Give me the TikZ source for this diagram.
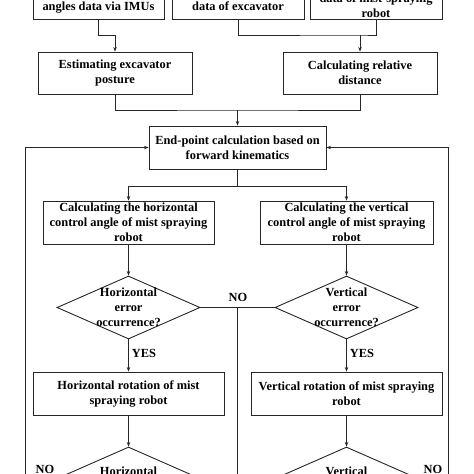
\documentclass[tikz,border=0pt]{standalone}
\usepackage{fontspec}
\setmainfont{Liberation Serif}
\usetikzlibrary{shapes.geometric, arrows.meta, positioning}

\begin{document}
\begin{tikzpicture}
[
    x = 1pt, y = -1pt,
    line width = 0.9pt, draw = black!85,
    every node/.style = {font = \fontsize{12.4}{15}\selectfont\bfseries, align = center},
    arr/.style = {-{Stealth[length=4.5pt, width=3.5pt]}}
  ]

  \tikzset{BoxStyle/.style = {draw = black!85,
                                rectangle,
                                inner sep    = 0pt,
                                minimum height = 43pt},
           TopStyle/.style = {draw = black!85,
                                rectangle,
                                anchor       = south,
                                inner xsep   = 0pt,
                                text height  = 40pt,
                                text depth   = 0pt},
           DecStyle/.style = {draw = black!85,
                                diamond,
                                shape aspect = 2.27,
                                inner sep    = -8pt,
                                minimum width  = 143pt,
                                minimum height = 63pt},
           LabStyle/.style = {inner sep = 1pt}}

  \useasboundingbox (0,0) rectangle (474,474);
  \clip (0,0) rectangle (474,474);

  % inputs
  \node[TopStyle, minimum width=131pt, inner ysep=8.7pt](in1) at (98.5,20)
       {angles data via IMUs};
  \node[TopStyle, minimum width=132pt, inner ysep=8.7pt](in2) at (238,20)
       {data of excavator};
  \node[TopStyle, minimum width=132pt, inner ysep=1.7pt](in3) at (376,20)
       {data of mist-spraying\\robot};

  \node[BoxStyle, minimum width=154pt, minimum height=42pt](est) at (115,73)
       {Estimating excavator\\posture};
  \node[BoxStyle, minimum width=154pt, minimum height=42pt](rel) at (360,73)
       {Calculating relative\\distance};

  \node[BoxStyle, minimum width=177pt](fk) at (237.5,147.5)
       {End-point calculation based on\\forward kinematics};

  % horizontal branch
  \node[BoxStyle, minimum width=171pt](hcal) at (128.5,222.5)
       {Calculating the horizontal\\control angle of mist spraying\\robot};
  \node[DecStyle](hdec) at (128.5,307.5) {Horizontal\\error\\occurrence?};
  \node[BoxStyle, minimum width=191pt](hrot) at (128.5,393.5)
       {Horizontal rotation of mist\\spraying robot};
  \node[DecStyle](hchk) at (128.5,478.5) {Horizontal\\~};

  % vertical branch
  \node[BoxStyle, minimum width=173pt](vcal) at (346.5,222.5)
       {Calculating the vertical\\control angle of mist spraying\\robot};
  \node[DecStyle](vdec) at (346.5,307.5) {Vertical\\error\\occurrence?};
  \node[BoxStyle, minimum width=191pt](vrot) at (346.5,393.5)
       {Vertical rotation of mist spraying\\robot};
  \node[DecStyle](vchk) at (346.5,478.5) {Vertical\\~};

  \coordinate (m1) at (360,35);
  \coordinate (m2) at (237.5,110);
  \coordinate (lp) at (25,478.5);
  \coordinate (rp) at (448,478.5);
  \coordinate (mid) at (237,490);

  \draw[arr] (in1.south) -- ++(0,15) -| (est.north);
  \draw (in2.south) |- (m1) -| (in3.south);
  \draw[arr] (m1) -- (rel.north);
  \draw (est.south) |- (m2) -| (rel.south);
  \draw[arr] (m2) -- (fk.north);

  \draw[arr] (fk.south) -- ++(0,17) -| (hcal.north);
  \draw[arr] (fk.south) -- ++(0,17) -| (vcal.north);

  \draw[arr] (hcal) -- (hdec);
  \draw[arr] (vcal) -- (vdec);
  \draw[arr] (hdec) -- node[LabStyle, right=2pt, pos=0.45](yes1){YES} (hrot);
  \draw[arr] (vdec) -- node[LabStyle, right=2pt, pos=0.45](yes2){YES} (vrot);
  \draw[arr] (hrot) -- (hchk);
  \draw[arr] (vrot) -- (vchk);

  \draw (hdec.east) -- (vdec.west);
  \draw (mid |- hdec.east) -- (mid);
  \node[LabStyle](no1) at (238,297) {NO};

  % feedback loops
  \draw[arr] (hchk.west) -- (lp) |- (fk.west);
  \draw[arr] (vchk.east) -- (rp) |- (fk.east);
  \node[LabStyle](no2) at (45,469) {NO};
  \node[LabStyle](no3) at (433,469) {NO};
\end{tikzpicture}
\end{document}
